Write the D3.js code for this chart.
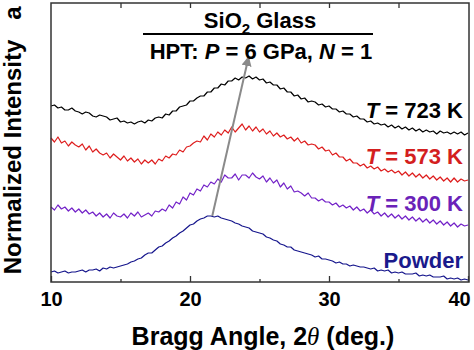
<!DOCTYPE html>
<html><head><meta charset="utf-8">
<script src="https://cdn.jsdelivr.net/npm/d3@7"></script>
<style>
html,body{margin:0;padding:0;background:#fff;}
text{font-family:"Liberation Sans",Arial,Helvetica,sans-serif;font-weight:bold;}
</style></head>
<body><svg id="c" width="474" height="350"></svg>
<script>
// Sampling grid (Bragg angle 2θ, deg.)
const xStart = 10, xEnd = 40, xStep = 0.25;
const xTicks = [10, 20, 30, 40];
const xMinorTicks = [15, 25, 35];
const seriesNames = ["T = 723 K", "T = 573 K", "T = 300 K", "Powder"];
// Normalized intensity (arbitrary, offset)
const t723 = [176,177,174,175, 172,172,174,171, 170,168,170,169, 166,165,167,166, 165,162,163,164, 160,161,159,160, 158,160,161,159, 162,161,164,165, 164,168,167,171, 171,175,176,177, 181,181,184,186, 186,190,190,194, 194,198,197,201, 201,204,202,205, 204,206,203,205, 202,203,199,200, 197,197,193,194, 190,190,186,187, 183,184,180,181, 180,177,178,175, 176,173,173,170, 171,168,168,165, 166,163,163,160, 161,158,159,157, 158,155,157,154, 156,153,155,152, 154,151,153,150, 152,150,151,148, 151,149,150,148, 150,148,150,147, 149];
const t573 = [144,140,145,139, 141,136,140,137, 135,138,132,136, 130,133,129,127, 129,124,128,125, 122,126,121,124, 120,123,118,122, 119,122,118,123, 121,126,124,128, 127,132,130,135, 136,139,141,140, 146,142,148,145, 150,147,152,149, 155,150,154,158, 152,156,151,155, 150,153,148,151, 146,149,145,147, 143,145,141,144, 139,141,137,138, 137,133,135,131, 132,127,129,125, 125,121,123,119, 119,116,118,114, 116,113,115,111, 113,110,112,109, 111,107,110,106, 109,105,108,104, 107,103,106,102, 105,101,104,100, 104,100,103,101, 102];
const t300 = [75,72,77,73, 75,71,74,70, 73,69,72,68, 70,66,69,65, 68,64,69,66, 65,68,64,69, 66,70,65,67, 69,66,71,70, 73,71,77,74, 80,78,85,82, 89,87,93,91, 97,95,100,98, 103,100,107,104, 104,108,102,107, 107,104,109,105, 103,106,100,104, 99,102,95,99, 93,96,90,91, 89,86,89,84, 84,81,83,80, 80,77,79,75, 77,74,76,72, 75,71,73,69, 72,68,70,66, 69,65,68,64, 67,63,66,62, 65,61,64,60, 63,59,62,58, 61,57,60,56, 59,55,58,56, 57];
const powder = [10,11,9,10, 11,9,10,10, 11,12,10,12, 12,13,11,14, 13,15,14,15, 16,17,18,20, 21,23,24,27, 29,29,32,35, 36,39,41,44, 46,49,51,54, 57,58,61,63, 64,66,66,65, 66,64,63,62, 61,59,58,56, 55,54,51,50, 49,48,45,44, 42,41,38,37, 35,35,32,31, 30,29,28,27, 25,26,23,23, 22,21,19,20, 18,18,16,17, 16,15,15,14, 13,14,11,12, 11,12,9,10, 9,10,8,8, 8,9,6,7, 6,7,5,5, 5,6,3,4, 3,4,2,3, 2];
// Arrow marking the peak shift (2θ, intensity)
const arrowFrom = [21.6, 66];
const arrowTo = [24.2, 224];

const svg = d3.select("#c");
const L = 51, R = 468, T = 3, B = 282;
const x = d3.scaleLinear().domain([10, 40]).range([L, R]);
const y = d3.scaleLinear().domain([0, 279]).range([B, T]);
const xs = d3.range(xStart, xEnd + xStep / 2, xStep);

const series = [
  {name: seriesNames[0], vals: t723, color: "#000000", text: "#000000", base: 118},
  {name: seriesNames[1], vals: t573, color: "#de1e1e", text: "#d41f1f", base: 164},
  {name: seriesNames[2], vals: t300, color: "#7322c8", text: "#6a22b8", base: 211},
  {name: seriesNames[3], vals: powder, color: "#15158c", text: "#1a1a8c", base: 268}
];

const line = d3.line().x((d, i) => x(xs[i])).y(d => y(d));
series.forEach(s => {
  svg.append("path").attr("d", line(s.vals)).attr("fill", "none")
    .attr("stroke", s.color).attr("stroke-width", 1.2).attr("stroke-linejoin", "round");
});

// frame
svg.append("rect").attr("x", L).attr("y", T).attr("width", R - L + 1).attr("height", B - T)
  .attr("fill", "none").attr("stroke", "#333").attr("stroke-width", 1.5);

// bottom & top axes via d3 axes
const gB = svg.append("g").attr("transform", `translate(0,${B})`)
  .call(d3.axisBottom(x).tickValues(xTicks).tickSize(-6).tickFormat(d3.format("d")).tickPadding(10));
gB.select(".domain").remove();
gB.selectAll("text").attr("font-size", 20).attr("fill", "#000").attr("dy", "0.71em")
  .attr("dx", d => d === 40 ? -9 : 0)
  .style("font-family", '"Liberation Sans",Arial,sans-serif').style("font-weight", "bold");
gB.selectAll("line").attr("stroke", "#333").attr("stroke-width", 1.3);
const gBm = svg.append("g").attr("transform", `translate(0,${B})`)
  .call(d3.axisBottom(x).tickValues(xMinorTicks).tickSize(-3).tickFormat(""));
gBm.select(".domain").remove();
gBm.selectAll("line").attr("stroke", "#333").attr("stroke-width", 1.3);
const gT = svg.append("g").attr("transform", `translate(0,${T})`)
  .call(d3.axisTop(x).tickValues([15, 20, 25, 30, 35]).tickSize(-5).tickFormat(""));
gT.select(".domain").remove();
gT.selectAll("line").attr("stroke", "#333").attr("stroke-width", 1.3);

// series labels
series.forEach(s => {
  const t = svg.append("text").attr("x", 463).attr("y", s.base).attr("text-anchor", "end")
    .attr("font-size", 22).attr("fill", s.text);
  if (s.name.startsWith("T")) {
    t.append("tspan").attr("font-style", "italic").text("T");
    t.append("tspan").text(s.name.slice(1));
  } else t.text(s.name);
});

// arrow
svg.append("defs").append("marker").attr("id", "ah").attr("viewBox", "0 0 10 10")
  .attr("refX", 8).attr("refY", 5).attr("markerWidth", 5).attr("markerHeight", 5)
  .attr("orient", "auto").attr("markerUnits", "strokeWidth")
  .append("path").attr("d", "M0,0 L10,5 L0,10 z").attr("fill", "#8a8a8a");
svg.append("line").attr("x1", x(arrowFrom[0])).attr("y1", y(arrowFrom[1]))
  .attr("x2", x(arrowTo[0])).attr("y2", y(arrowTo[1]))
  .attr("stroke", "#8a8a8a").attr("stroke-width", 2).attr("marker-end", "url(#ah)");

// title block
const t1 = svg.append("text").attr("x", 260).attr("y", 28).attr("text-anchor", "middle")
  .attr("font-size", 22).attr("fill", "#000");
t1.append("tspan").text("SiO");
t1.append("tspan").attr("font-size", 15).attr("dy", 6).text("2");
t1.append("tspan").attr("dy", -6).text(" Glass");
svg.append("line").attr("x1", 143).attr("x2", 373).attr("y1", 34).attr("y2", 34)
  .attr("stroke", "#000").attr("stroke-width", 2);
const t2 = svg.append("text").attr("x", 261).attr("y", 59).attr("text-anchor", "middle")
  .attr("font-size", 22).attr("fill", "#000");
t2.append("tspan").text("HPT: ");
t2.append("tspan").attr("font-style", "italic").text("P");
t2.append("tspan").text(" = 6 GPa, ");
t2.append("tspan").attr("font-style", "italic").text("N");
t2.append("tspan").text(" = 1");

// axis titles
const xl = svg.append("text").attr("x", 263).attr("y", 345).attr("text-anchor", "middle")
  .attr("font-size", 25).attr("fill", "#000");
xl.append("tspan").text("Bragg Angle, 2");
xl.append("tspan").style("font-family", '"Liberation Serif","DejaVu Serif",serif')
  .style("font-style", "italic").style("font-weight", "normal").text("θ");
xl.append("tspan").text(" (deg.)");

svg.append("text").attr("transform", "translate(21,157) rotate(-90)").attr("text-anchor", "middle")
  .attr("font-size", 24).attr("fill", "#000").text("Normalized Intensity");
svg.append("text").attr("transform", "translate(21,13) rotate(-90)").attr("text-anchor", "middle")
  .attr("font-size", 24).attr("fill", "#000").text("a");
</script></body></html>
